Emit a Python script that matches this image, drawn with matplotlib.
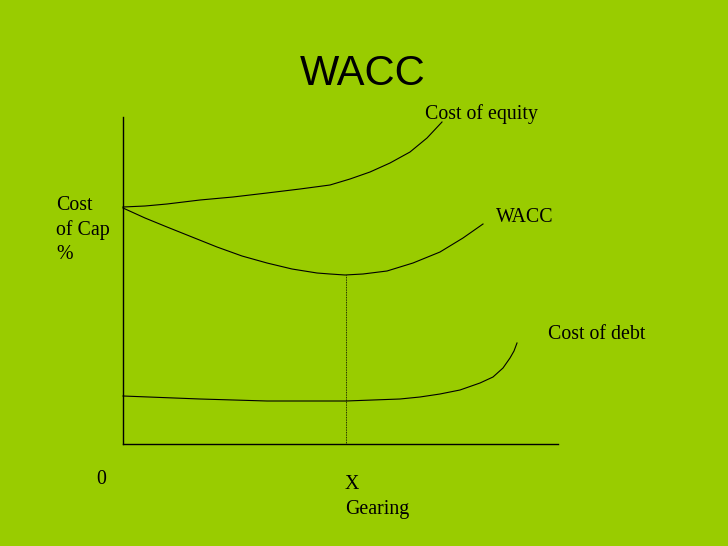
import matplotlib.pyplot as plt

# curves (x = gearing, y = cost of capital, arbitrary units)
equity_x = [0, 22, 44, 77, 110, 144, 177, 207, 227, 247, 267, 287, 304, 319]
equity_y = [237, 238, 240, 244, 247, 251, 255, 259, 265, 272, 281, 292, 306, 322]

wacc_x = [0, 22, 44, 69, 94, 119, 144, 169, 194, 207, 222, 240, 264, 290, 317, 340, 360]
wacc_y = [236, 226, 217, 207, 197, 188, 181, 175, 171, 170, 169, 170, 173, 181, 192, 206, 220]

debt_x = [0, 77, 144, 223, 277, 297, 317, 337, 357, 370, 380, 387, 391, 394]
debt_y = [48, 45, 43, 43, 45, 47, 50, 54, 61, 67, 76, 86, 93, 101]

opt_x = 223
opt_y = 169

W, H = 728, 546
bg = '#99cc00'


def px(x, y):
    return x / W, 1 - y / H


fig = plt.figure(figsize=(W / 100, H / 100), dpi=100, facecolor=bg)
ax = fig.add_axes([123 / W, (H - 444) / H, 435 / W, 327 / H])
ax.set_facecolor(bg)
ax.set_xlim(0, 435)
ax.set_ylim(0, 327)
ax.spines['top'].set_visible(False)
ax.spines['right'].set_visible(False)
ax.spines['left'].set_linewidth(1.0)
ax.spines['bottom'].set_linewidth(1.0)
ax.set_xticks([])
ax.set_yticks([])

ax.plot(equity_x, equity_y, color='black', lw=0.8, clip_on=False, solid_joinstyle='round')
ax.plot(wacc_x, wacc_y, color='black', lw=0.8, clip_on=False, solid_joinstyle='round')
ax.plot(debt_x, debt_y, color='black', lw=0.8, clip_on=False, solid_joinstyle='round')
ax.vlines(opt_x, 0, opt_y, color='black', lw=0.6, linestyles=(0, (1, 1)))

serif = 'Liberation Serif'
fs = 14.3
fig.text(*px(363, 85), 'WACC', family='Liberation Sans', fontsize=30,
         ha='center', va='baseline')
fig.text(*px(425, 119), 'Cost of equity', family=serif, fontsize=fs, va='baseline')
fig.text(*px(496, 222), 'WACC', family=serif, fontsize=fs, va='baseline')
fig.text(*px(548, 339), 'Cost of debt', family=serif, fontsize=fs, va='baseline')
fig.text(*px(56, 210), 'Cost', family=serif, fontsize=fs, va='baseline')
fig.text(*px(56, 235), 'of Cap', family=serif, fontsize=fs, va='baseline')
fig.text(*px(56, 259), '%', family=serif, fontsize=fs, va='baseline')
fig.text(*px(96, 484), '0', family=serif, fontsize=fs, va='baseline')
fig.text(*px(345, 489), 'X', family=serif, fontsize=fs, va='baseline')
fig.text(*px(345, 514), 'Gearing', family=serif, fontsize=fs, va='baseline')

fig.savefig('out.png', dpi=100, facecolor=bg)
